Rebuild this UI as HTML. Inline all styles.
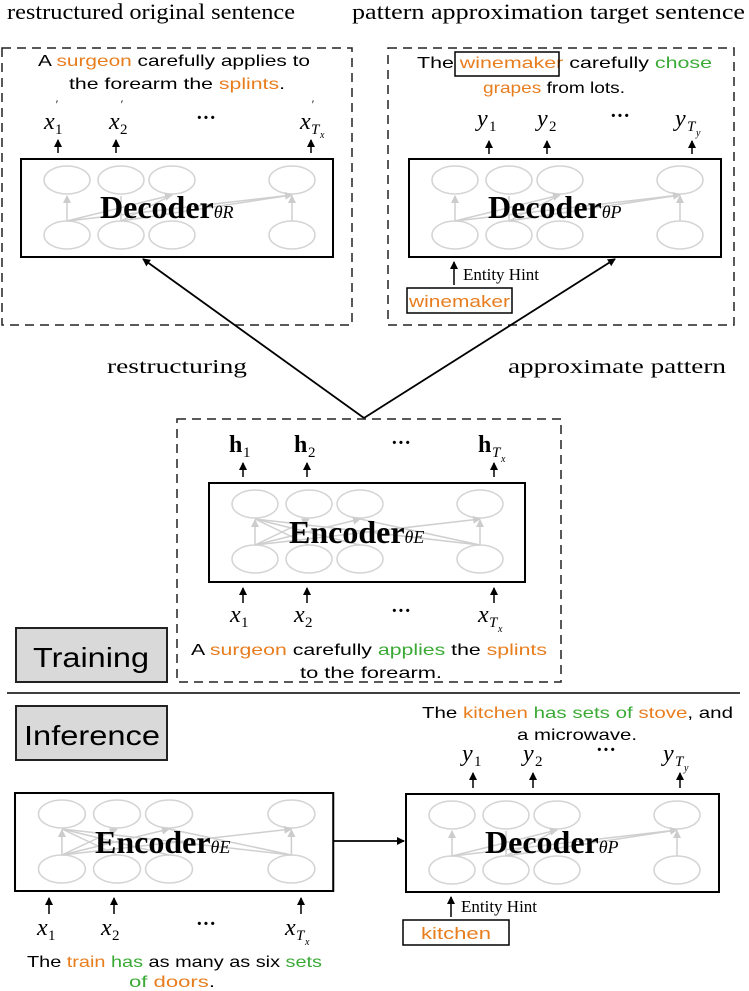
<!DOCTYPE html>
<html><head><meta charset="utf-8"><style>
html,body{margin:0;padding:0;background:#fff;}
svg{display:block;}
.ser{font-family:"Liberation Serif",serif;}
.san{font-family:"Liberation Sans",sans-serif;}
.o{fill:#e87d1e;} .g{fill:#3aaa35;}
</style></head><body>
<svg width="749" height="991" viewBox="0 0 749 991" xmlns="http://www.w3.org/2000/svg">
<defs>
<marker id="ah" markerWidth="8" markerHeight="8" refX="7" refY="4" orient="auto" markerUnits="userSpaceOnUse"><path d="M0,0 L8,4 L0,8 z" fill="#000"/></marker>
<marker id="gh" markerWidth="8" markerHeight="8" refX="7" refY="4" orient="auto" markerUnits="userSpaceOnUse"><path d="M0,0 L8,4 L0,8 z" fill="#ccc"/></marker>
<g id="cells" fill="none" stroke="#d4d4d4" stroke-width="1.5">
<ellipse cx="46" cy="21" rx="23" ry="14"/><ellipse cx="100" cy="21" rx="23" ry="14"/><ellipse cx="151" cy="21" rx="23" ry="14"/><ellipse cx="271" cy="21" rx="23" ry="14"/>
<ellipse cx="46" cy="76" rx="23" ry="14"/><ellipse cx="100" cy="76" rx="23" ry="14"/><ellipse cx="151" cy="76" rx="23" ry="14"/><ellipse cx="271" cy="76" rx="23" ry="14"/>
</g>
<g id="decl" stroke="#cfcfcf" stroke-width="1.5">
<line x1="46" y1="62" x2="46" y2="37" marker-end="url(#gh)"/>
<line x1="46" y1="62" x2="151" y2="36" marker-end="url(#gh)"/>
<line x1="46" y1="62" x2="271" y2="36" marker-end="url(#gh)"/>
<line x1="100" y1="62" x2="100" y2="37"/>
<line x1="100" y1="62" x2="151" y2="36"/>
<line x1="100" y1="62" x2="271" y2="36"/>
<line x1="271" y1="62" x2="271" y2="37" marker-end="url(#gh)"/>
</g>
<g id="encl" stroke="#cfcfcf" stroke-width="1.5">
<line x1="46" y1="62" x2="46" y2="37" marker-end="url(#gh)"/>
<line x1="46" y1="62" x2="100" y2="36" marker-end="url(#gh)"/>
<line x1="46" y1="62" x2="151" y2="36" marker-end="url(#gh)"/>
<line x1="46" y1="62" x2="271" y2="36" marker-end="url(#gh)"/>
<line x1="100" y1="62" x2="46" y2="36"/>
<line x1="151" y1="62" x2="46" y2="36"/>
<line x1="271" y1="62" x2="46" y2="36"/>
<line x1="271" y1="62" x2="151" y2="36"/>
<line x1="271" y1="62" x2="271" y2="37" marker-end="url(#gh)"/>
</g>
</defs>

<!-- titles -->
<text x="7" y="19" class="ser" font-size="22" textLength="288" lengthAdjust="spacingAndGlyphs">restructured original sentence</text>
<text x="352" y="19" class="ser" font-size="22" textLength="393" lengthAdjust="spacingAndGlyphs">pattern approximation target sentence</text>

<!-- top-left -->
<rect x="2" y="48" width="350" height="277" fill="none" stroke="#222" stroke-width="1.5" stroke-dasharray="9,6"/>
<text x="38" y="66" class="san" font-size="16" textLength="272" lengthAdjust="spacingAndGlyphs">A <tspan class="o">surgeon</tspan> carefully applies to</text>
<text x="69" y="89" class="san" font-size="16" textLength="216" lengthAdjust="spacingAndGlyphs">the forearm the <tspan class="o">splints</tspan>.</text>
<g class="ser" font-style="italic" font-size="24">
<text x="44" y="129">x</text><text x="55" y="134" font-size="15" font-style="normal">1</text><text x="55" y="108" font-size="12">′</text>
<text x="109" y="129">x</text><text x="120" y="134" font-size="15" font-style="normal">2</text><text x="120" y="108" font-size="12">′</text>
<text x="300" y="129">x</text><text x="311" y="134" font-size="15">T</text><text x="320" y="138" font-size="10">x</text><text x="311" y="108" font-size="12">′</text>
</g>
<text x="196" y="124" class="ser" font-weight="bold" font-size="20">···</text>
<g stroke="#000" stroke-width="1.5"><line x1="58" y1="153" x2="58" y2="140" marker-end="url(#ah)"/><line x1="116" y1="153" x2="116" y2="140" marker-end="url(#ah)"/><line x1="311" y1="153" x2="311" y2="140" marker-end="url(#ah)"/></g>
<g transform="translate(21,159)">
<rect x="0" y="0" width="312" height="98" fill="#fff" stroke="#000" stroke-width="2"/>
<use href="#cells"/><use href="#decl"/>
<text x="79" y="59" class="ser" font-weight="bold" font-size="32">Decoder<tspan font-size="18" font-weight="normal" font-style="italic">θR</tspan></text>
</g>

<!-- top-right -->
<rect x="388" y="48" width="346" height="277" fill="none" stroke="#222" stroke-width="1.5" stroke-dasharray="9,6"/>
<text x="417" y="68" class="san" font-size="16" textLength="295" lengthAdjust="spacingAndGlyphs">The <tspan class="o">winemaker</tspan> carefully <tspan class="g">chose</tspan></text>
<rect x="455" y="52" width="104" height="24" fill="none" stroke="#000" stroke-width="1.5"/>
<text x="483" y="93" class="san" font-size="16" textLength="142" lengthAdjust="spacingAndGlyphs"><tspan class="o">grapes</tspan> from lots.</text>
<g class="ser" font-style="italic" font-size="24">
<text x="477" y="126">y</text><text x="489" y="131" font-size="15" font-style="normal">1</text>
<text x="537" y="126">y</text><text x="549" y="131" font-size="15" font-style="normal">2</text>
<text x="675" y="126">y</text><text x="687" y="131" font-size="15">T</text><text x="696" y="136" font-size="10">y</text>
</g>
<text x="610" y="122" class="ser" font-weight="bold" font-size="20">···</text>
<g stroke="#000" stroke-width="1.5"><line x1="489" y1="154" x2="489" y2="141" marker-end="url(#ah)"/><line x1="547" y1="154" x2="547" y2="141" marker-end="url(#ah)"/><line x1="692" y1="154" x2="692" y2="141" marker-end="url(#ah)"/></g>
<g transform="translate(409,159)">
<rect x="0" y="0" width="312" height="98" fill="#fff" stroke="#000" stroke-width="2"/>
<use href="#cells"/><use href="#decl"/>
<text x="79" y="59" class="ser" font-weight="bold" font-size="32">Decoder<tspan font-size="18" font-weight="normal" font-style="italic">θP</tspan></text>
</g>
<line x1="454" y1="285" x2="454" y2="262" stroke="#000" stroke-width="1.5" marker-end="url(#ah)"/>
<text x="463" y="280" class="ser" font-size="17">Entity Hint</text>
<rect x="407" y="288" width="105" height="25" fill="none" stroke="#000" stroke-width="1.5"/>
<text x="409" y="307" class="san o" font-size="17" textLength="101" lengthAdjust="spacingAndGlyphs">winemaker</text>

<!-- connectors -->
<line x1="364" y1="418" x2="143" y2="259" stroke="#000" stroke-width="1.8" marker-end="url(#ah)"/>
<line x1="364" y1="418" x2="615" y2="259" stroke="#000" stroke-width="1.8" marker-end="url(#ah)"/>
<text x="107" y="373" class="ser" font-size="20" textLength="140" lengthAdjust="spacingAndGlyphs">restructuring</text>
<text x="508" y="373" class="ser" font-size="20" textLength="218" lengthAdjust="spacingAndGlyphs">approximate pattern</text>

<!-- middle -->
<rect x="177" y="419" width="384" height="263" fill="none" stroke="#222" stroke-width="1.5" stroke-dasharray="9,6"/>
<g class="ser" font-size="24">
<text x="229" y="452" font-weight="bold">h</text><text x="243" y="457" font-size="15">1</text>
<text x="294" y="452" font-weight="bold">h</text><text x="308" y="457" font-size="15">2</text>
<text x="478" y="452" font-weight="bold">h</text><text x="492" y="457" font-size="15" font-style="italic">T</text><text x="501" y="462" font-size="10" font-style="italic">x</text>
</g>
<text x="391" y="449" class="ser" font-weight="bold" font-size="20">···</text>
<g stroke="#000" stroke-width="1.5"><line x1="243" y1="477" x2="243" y2="463" marker-end="url(#ah)"/><line x1="307" y1="477" x2="307" y2="463" marker-end="url(#ah)"/><line x1="494" y1="477" x2="494" y2="463" marker-end="url(#ah)"/>
<line x1="243" y1="603" x2="243" y2="588" marker-end="url(#ah)"/><line x1="307" y1="603" x2="307" y2="588" marker-end="url(#ah)"/><line x1="494" y1="603" x2="494" y2="588" marker-end="url(#ah)"/></g>
<g transform="translate(209,483)">
<rect x="0" y="0" width="316" height="99" fill="#fff" stroke="#000" stroke-width="2"/>
<use href="#cells"/><use href="#encl"/>
<text x="80" y="60" class="ser" font-weight="bold" font-size="32">Encoder<tspan font-size="18" font-weight="normal" font-style="italic">θE</tspan></text>
</g>
<g class="ser" font-style="italic" font-size="24">
<text x="230" y="622">x</text><text x="241" y="627" font-size="15" font-style="normal">1</text>
<text x="294" y="622">x</text><text x="305" y="627" font-size="15" font-style="normal">2</text>
<text x="478" y="622">x</text><text x="489" y="627" font-size="15">T</text><text x="498" y="632" font-size="10">x</text>
</g>
<text x="391" y="617" class="ser" font-weight="bold" font-size="20">···</text>
<text x="191" y="655" class="san" font-size="16" textLength="356" lengthAdjust="spacingAndGlyphs">A <tspan class="o">surgeon</tspan> carefully <tspan class="g">applies</tspan> the <tspan class="o">splints</tspan></text>
<text x="300" y="678" class="san" font-size="16" textLength="142" lengthAdjust="spacingAndGlyphs">to the forearm.</text>

<rect x="16" y="628" width="151" height="54" fill="#d9d9d9" stroke="#222" stroke-width="2"/>
<text x="33" y="667" class="san" font-size="28" textLength="116" lengthAdjust="spacingAndGlyphs">Training</text>

<line x1="7" y1="693" x2="740" y2="693" stroke="#000" stroke-width="1.5"/>

<rect x="16" y="706" width="151" height="54" fill="#d9d9d9" stroke="#222" stroke-width="2"/>
<text x="24" y="745" class="san" font-size="28" textLength="136" lengthAdjust="spacingAndGlyphs">Inference</text>

<!-- bottom right -->
<text x="422" y="718" class="san" font-size="16" textLength="311" lengthAdjust="spacingAndGlyphs">The <tspan class="o">kitchen</tspan> <tspan class="g">has sets of</tspan> <tspan class="o">stove</tspan>, and</text>
<text x="517" y="740" class="san" font-size="16" textLength="120" lengthAdjust="spacingAndGlyphs">a microwave.</text>
<g class="ser" font-style="italic" font-size="24">
<text x="462" y="761">y</text><text x="474" y="766" font-size="15" font-style="normal">1</text>
<text x="523" y="761">y</text><text x="535" y="766" font-size="15" font-style="normal">2</text>
<text x="663" y="761">y</text><text x="675" y="766" font-size="15">T</text><text x="684" y="771" font-size="10">y</text>
</g>
<text x="596" y="756" class="ser" font-weight="bold" font-size="20">···</text>
<g stroke="#000" stroke-width="1.5"><line x1="473" y1="788" x2="473" y2="773" marker-end="url(#ah)"/><line x1="533" y1="788" x2="533" y2="773" marker-end="url(#ah)"/><line x1="680" y1="788" x2="680" y2="773" marker-end="url(#ah)"/></g>
<g transform="translate(406,794)">
<rect x="0" y="0" width="313" height="98" fill="#fff" stroke="#000" stroke-width="2"/>
<use href="#cells"/><use href="#decl"/>
<text x="79" y="59" class="ser" font-weight="bold" font-size="32">Decoder<tspan font-size="18" font-weight="normal" font-style="italic">θP</tspan></text>
</g>
<line x1="451" y1="917" x2="451" y2="897" stroke="#000" stroke-width="1.5" marker-end="url(#ah)"/>
<text x="461" y="912" class="ser" font-size="17">Entity Hint</text>
<rect x="403" y="920" width="106" height="25" fill="none" stroke="#000" stroke-width="1.5"/>
<text x="421" y="939" class="san o" font-size="17" textLength="70" lengthAdjust="spacingAndGlyphs">kitchen</text>

<!-- bottom left -->
<g transform="translate(15,793)">
<g transform="scale(1.02,1)">
<rect x="0" y="0" width="312" height="98" fill="#fff" stroke="#000" stroke-width="2"/>
<use href="#cells"/><use href="#encl"/>
</g>
<text x="80" y="60" class="ser" font-weight="bold" font-size="32">Encoder<tspan font-size="18" font-weight="normal" font-style="italic">θE</tspan></text>
</g>
<line x1="333" y1="841" x2="404" y2="841" stroke="#000" stroke-width="1.8" marker-end="url(#ah)"/>
<g stroke="#000" stroke-width="1.5"><line x1="49" y1="914" x2="49" y2="898" marker-end="url(#ah)"/><line x1="114" y1="914" x2="114" y2="898" marker-end="url(#ah)"/><line x1="301" y1="914" x2="301" y2="898" marker-end="url(#ah)"/></g>
<g class="ser" font-style="italic" font-size="24">
<text x="37" y="935">x</text><text x="48" y="940" font-size="15" font-style="normal">1</text>
<text x="101" y="935">x</text><text x="112" y="940" font-size="15" font-style="normal">2</text>
<text x="285" y="935">x</text><text x="296" y="940" font-size="15">T</text><text x="305" y="945" font-size="10">x</text>
</g>
<text x="196" y="930" class="ser" font-weight="bold" font-size="20">···</text>
<text x="27" y="967" class="san" font-size="16" textLength="295" lengthAdjust="spacingAndGlyphs">The <tspan class="o">train</tspan> <tspan class="g">has</tspan> as many as six <tspan class="g">sets</tspan></text>
<text x="129" y="987" class="san" font-size="16" textLength="86" lengthAdjust="spacingAndGlyphs"><tspan class="g">of</tspan> <tspan class="o">doors</tspan>.</text>
</svg>
</body></html>
